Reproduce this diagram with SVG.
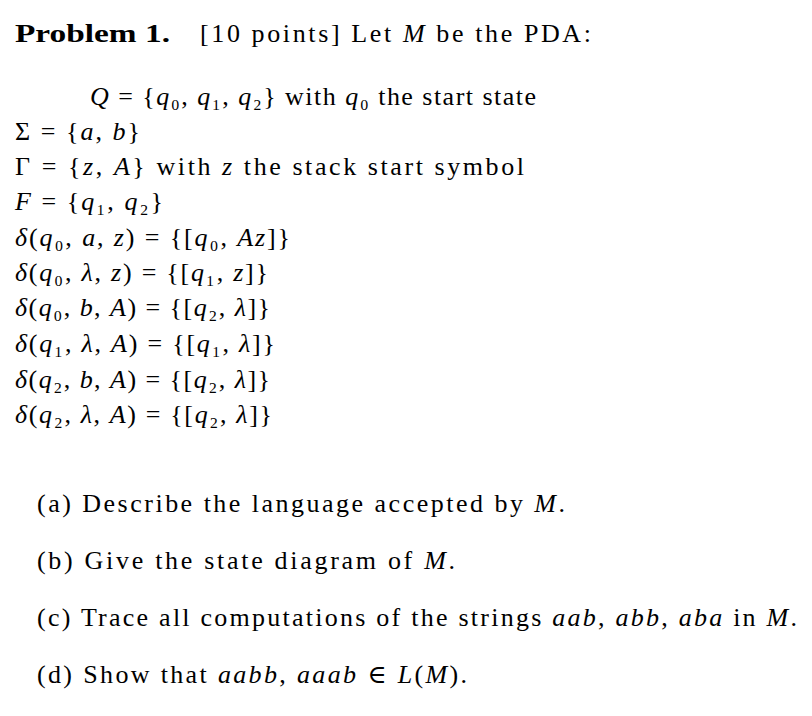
<svg xmlns="http://www.w3.org/2000/svg" width="812" height="716" viewBox="0 0 812 716">
<style>
text{font-family:"Liberation Serif","DejaVu Serif",serif;font-size:26px;fill:#000}
.i{font-style:italic}
.b{font-weight:bold}
</style>
<rect width="812" height="716" fill="#fff"/>
<text x="15" y="42" class="b" textLength="155" lengthAdjust="spacingAndGlyphs">Problem 1.</text>
<text x="200" y="42" textLength="391" lengthAdjust="spacing">[10 points] Let <tspan class="i">M</tspan> be the PDA:</text>
<text x="90" y="105" textLength="446" lengthAdjust="spacing"><tspan class="i">Q</tspan> = {<tspan class="i">q</tspan>₀, <tspan class="i">q</tspan>₁, <tspan class="i">q</tspan>₂} with <tspan class="i">q</tspan>₀ the start state</text>
<text x="15" y="140" textLength="125" lengthAdjust="spacing">Σ = {<tspan class="i">a</tspan>, <tspan class="i">b</tspan>}</text>
<text x="15" y="175" textLength="509" lengthAdjust="spacing">Γ = {<tspan class="i">z</tspan>, <tspan class="i">A</tspan>} with <tspan class="i">z</tspan> the stack start symbol</text>
<text x="15" y="210" textLength="148" lengthAdjust="spacing"><tspan class="i">F</tspan> = {<tspan class="i">q</tspan>₁, <tspan class="i">q</tspan>₂}</text>
<text x="15" y="246" textLength="275" lengthAdjust="spacing"><tspan class="i">δ</tspan>(<tspan class="i">q</tspan>₀, <tspan class="i">a</tspan>, <tspan class="i">z</tspan>) = {[<tspan class="i">q</tspan>₀, <tspan class="i">Az</tspan>]}</text>
<text x="15" y="281" textLength="253" lengthAdjust="spacing"><tspan class="i">δ</tspan>(<tspan class="i">q</tspan>₀, <tspan class="i">λ</tspan>, <tspan class="i">z</tspan>) = {[<tspan class="i">q</tspan>₁, <tspan class="i">z</tspan>]}</text>
<text x="15" y="316" textLength="255" lengthAdjust="spacing"><tspan class="i">δ</tspan>(<tspan class="i">q</tspan>₀, <tspan class="i">b</tspan>, <tspan class="i">A</tspan>) = {[<tspan class="i">q</tspan>₂, <tspan class="i">λ</tspan>]}</text>
<text x="15" y="352" textLength="260" lengthAdjust="spacing"><tspan class="i">δ</tspan>(<tspan class="i">q</tspan>₁, <tspan class="i">λ</tspan>, <tspan class="i">A</tspan>) = {[<tspan class="i">q</tspan>₁, <tspan class="i">λ</tspan>]}</text>
<text x="15" y="388" textLength="255" lengthAdjust="spacing"><tspan class="i">δ</tspan>(<tspan class="i">q</tspan>₂, <tspan class="i">b</tspan>, <tspan class="i">A</tspan>) = {[<tspan class="i">q</tspan>₂, <tspan class="i">λ</tspan>]}</text>
<text x="15" y="423" textLength="257" lengthAdjust="spacing"><tspan class="i">δ</tspan>(<tspan class="i">q</tspan>₂, <tspan class="i">λ</tspan>, <tspan class="i">A</tspan>) = {[<tspan class="i">q</tspan>₂, <tspan class="i">λ</tspan>]}</text>
<text x="37" y="512" textLength="528" lengthAdjust="spacing">(a) Describe the language accepted by <tspan class="i">M</tspan>.</text>
<text x="37" y="569" textLength="418" lengthAdjust="spacing">(b) Give the state diagram of <tspan class="i">M</tspan>.</text>
<text x="37" y="626" textLength="760" lengthAdjust="spacing">(c) Trace all computations of the strings <tspan class="i">aab</tspan>, <tspan class="i">abb</tspan>, <tspan class="i">aba</tspan> in <tspan class="i">M</tspan>.</text>
<text x="37" y="683" textLength="430" lengthAdjust="spacing">(d) Show that <tspan class="i">aabb</tspan>, <tspan class="i">aaab</tspan> ∈ <tspan class="i">L</tspan>(<tspan class="i">M</tspan>).</text>
</svg>
